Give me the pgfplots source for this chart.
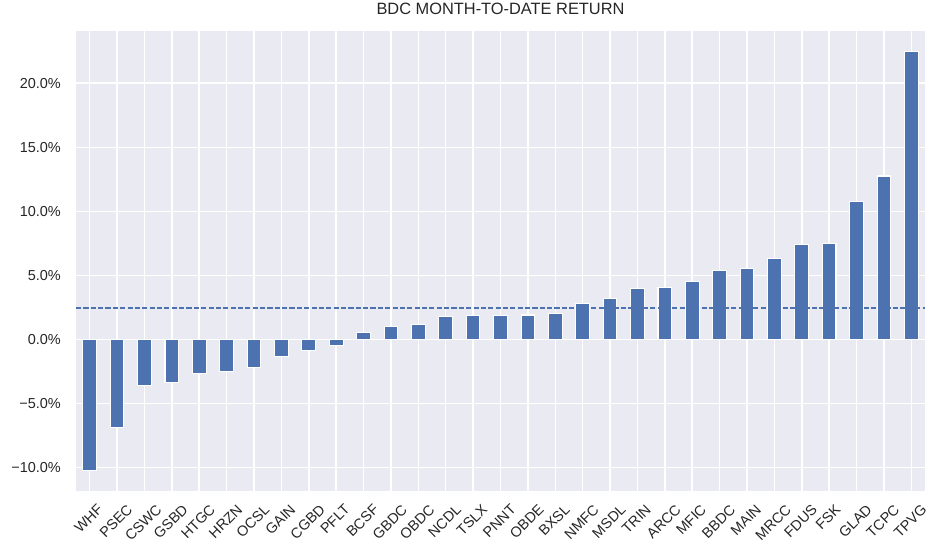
\documentclass[border=0pt]{standalone}
\usepackage{fontspec}
\setmainfont{Liberation Sans}
\usepackage{graphicx}
\usepackage{pgfplots}
\usepackage{pgfplotstable}
\pgfplotsset{compat=1.18}

\definecolor{sbblue}{RGB}{76,114,176}
\definecolor{sbback}{RGB}{234,234,242}

% month-to-date return (%), sorted ascending
\pgfplotstableread{
x ret
0  -10.20
1  -6.86
2  -3.56
3  -3.33
4  -2.63
5  -2.47
6  -2.16
7  -1.30
8  -0.83
9  -0.44
10  0.57
11  1.01
12  1.17
13  1.79
14  1.84
15  1.85
16  1.91
17  1.99
18  2.84
19  3.23
20  4.01
21  4.09
22  4.55
23  5.41
24  5.56
25  6.34
26  7.45
27  7.46
28  10.77
29  12.76
30  22.45
}\bdcdata

\newcommand\rl[1]{\rotatebox{45}{\strut #1}}

\begin{document}
\begin{tikzpicture}
\useasboundingbox (0,0) rectangle (678.96pt,401.76pt);
\begin{axis}[
    at={(54.72pt,48.24pt)},
    anchor=south west,
    scale only axis,
    width=611.28pt,
    height=331.2pt,
    xmin=-0.5, xmax=30.5,
    ymin=-11.83, ymax=24.08,
    axis background/.style={fill=sbback},
    axis line style={draw=none},
    major tick length=0pt,
    xmajorgrids, ymajorgrids,
    grid style={white, line width=1.1pt},
    xtick={0,...,30},
    xticklabels={\rl{WHF},\rl{PSEC},\rl{CSWC},\rl{GSBD},\rl{HTGC},\rl{HRZN},
        \rl{OCSL},\rl{GAIN},\rl{CGBD},\rl{PFLT},\rl{BCSF},\rl{GBDC},\rl{OBDC},
        \rl{NCDL},\rl{TSLX},\rl{PNNT},\rl{OBDE},\rl{BXSL},\rl{NMFC},\rl{MSDL},
        \rl{TRIN},\rl{ARCC},\rl{MFIC},\rl{BBDC},\rl{MAIN},\rl{MRCC},\rl{FDUS},
        \rl{FSK},\rl{GLAD},\rl{TCPC},\rl{TPVG}},
    xticklabel style={font=\fontsize{10.4}{12}\selectfont, anchor=north, inner sep=0pt, yshift=-8pt, text=black!85},
    ytick={-10,-5,0,5,10,15,20},
    yticklabels={−10.0\%,−5.0\%,0.0\%,5.0\%,10.0\%,15.0\%,20.0\%},
    yticklabel style={font=\fontsize{10.4}{12}\selectfont, anchor=east, inner sep=0pt, xshift=-10.8pt, text=black!85},
    title={BDC MONTH-TO-DATE RETURN},
    title style={font=\fontsize{11.8}{14}\selectfont, anchor=base, at={(0.5,1)}, yshift=6pt, text=black!85},
]
\addplot[ybar, bar width=0.5, fill=sbblue, draw=white, line width=0.75pt] table[x=x, y=ret] {\bdcdata};
\addplot[sbblue, dashed, line width=1pt, dash pattern=on 3.7pt off 1.6pt] coordinates {(-0.5,2.45) (30.5,2.45)};
\end{axis}
\end{tikzpicture}
\end{document}
